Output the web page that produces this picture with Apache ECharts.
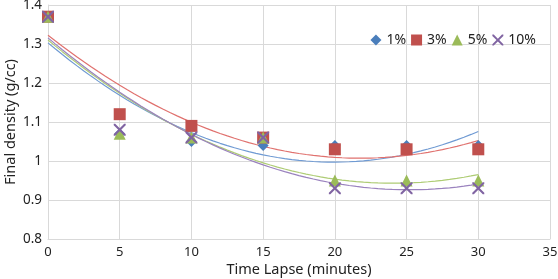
<!DOCTYPE html>
<html style="height: 100%">
<head>
<meta charset="utf-8">
<script src="https://cdn.jsdelivr.net/npm/echarts@6/dist/echarts.min.js"></script>
<title>Final density vs time lapse</title>
</head>
<body style="height: 100%; margin: 0; background: #fff">
<div id="container" style="width: 558px; height: 279px"></div>
<script type="text/javascript">
// time lapse in minutes
const minutes = [0, 5, 10, 15, 20, 25, 30];
const names = ['1%', '3%', '5%', '10%'];
const d1 = [1.37, 1.07, 1.05, 1.04, 1.04, 1.04, 1.04];
const d3 = [1.37, 1.12, 1.09, 1.06, 1.03, 1.03, 1.03];
const d5 = [1.37, 1.07, 1.06, 1.06, 0.95, 0.95, 0.95];
const d10 = [1.37, 1.08, 1.06, 1.06, 0.93, 0.93, 0.93];
const colors = ['#4A7EBB', '#C0504D', '#9BBB59', '#8064A2'];
const lineColors = ['#6F9AD3', '#E0716E', '#AECC74', '#9A82BE'];

const crossPath = 'path://M0,0 L2.5,0 L10,7.5 L17.5,0 L20,0 L20,2.5 L12.5,10 L20,17.5 L20,20 L17.5,20 L10,12.5 L2.5,20 L0,20 L0,17.5 L7.5,10 L0,2.5 Z';
const symbols = ['diamond', 'rect', 'triangle', crossPath];
const symSizes = [11, 12, 12, 12];

// 2nd order polynomial trendline (least squares), like the spreadsheet one
function polyFit(xs, ys) {
    let s = [0, 0, 0, 0, 0], t = [0, 0, 0];
    for (let i = 0; i < xs.length; i++) {
        let p = 1;
        for (let k = 0; k < 5; k++) { s[k] += p; if (k < 3) t[k] += p * ys[i]; p *= xs[i]; }
    }
    // solve 3x3 system
    let m = [[s[0], s[1], s[2], t[0]], [s[1], s[2], s[3], t[1]], [s[2], s[3], s[4], t[2]]];
    for (let i = 0; i < 3; i++) {
        for (let j = i + 1; j < 3; j++) {
            let f = m[j][i] / m[i][i];
            for (let k = i; k < 4; k++) m[j][k] -= f * m[i][k];
        }
    }
    let c = [0, 0, 0];
    for (let i = 2; i >= 0; i--) {
        let v = m[i][3];
        for (let k = i + 1; k < 3; k++) v -= m[i][k] * c[k];
        c[i] = v / m[i][i];
    }
    return c;
}

function trend(ys) {
    let c = polyFit(minutes, ys);
    let pts = [];
    for (let x = 0; x <= 30; x += 0.5) pts.push([x, c[0] + c[1] * x + c[2] * x * x]);
    return pts;
}

const all = [d1, d3, d5, d10];
let series = [];
all.forEach(function (ys, i) {
    series.push({
        name: names[i] + ' trend',
        type: 'line',
        data: trend(ys),
        showSymbol: false,
        silent: true,
        z: 1,
        lineStyle: { color: lineColors[i], width: 1.2 }
    });
});
all.forEach(function (ys, i) {
    series.push({
        name: names[i],
        type: 'scatter',
        data: minutes.map(function (x, j) { return [x, ys[j]]; }),
        symbol: symbols[i],
        symbolSize: symSizes[i],
        z: 3,
        itemStyle: { color: colors[i], opacity: 1 }
    });
});

let chart = echarts.init(document.getElementById('container'));
chart.setOption({
    animation: false,
    textStyle: { fontFamily: 'Noto Sans' },
    grid: { left: 48, right: 8, top: 5, bottom: 40, outerBoundsMode: 'none', containLabel: false },
    legend: {
        data: names.map(function (n, i) { return { name: n, icon: symbols[i] }; }),
        top: 28,
        right: 17,
        itemWidth: 11,
        itemHeight: 11,
        itemGap: 5,
        textStyle: { fontSize: 14, color: '#222', fontFamily: 'Noto Sans' }
    },
    xAxis: {
        type: 'value',
        min: 0, max: 35, interval: 5,
        name: 'Time Lapse (minutes)',
        nameLocation: 'middle',
        nameGap: 23,
        nameMoveOverlap: false,
        nameTextStyle: { fontSize: 14.5, color: '#222' },
        axisLine: { lineStyle: { color: '#d9d9d9' } },
        axisTick: { show: false },
        axisLabel: { fontSize: 13, color: '#222', margin: 7 },
        splitLine: { show: true, lineStyle: { color: '#d9d9d9' } }
    },
    yAxis: {
        type: 'value',
        min: 0.8, max: 1.4, interval: 0.1,
        name: 'Final density (g/cc)',
        nameLocation: 'middle',
        nameGap: 30,
        nameMoveOverlap: false,
        nameTextStyle: { fontSize: 14.5, color: '#222' },
        axisLine: { show: true, lineStyle: { color: '#d9d9d9' } },
        axisTick: { show: false },
        axisLabel: {
            fontSize: 13.5, color: '#222', margin: 6,
            formatter: function (v) { return String(Math.round(v * 10) / 10); }
        },
        splitLine: { show: true, lineStyle: { color: '#d9d9d9' } }
    },
    series: series
});
</script>
</body>
</html>
